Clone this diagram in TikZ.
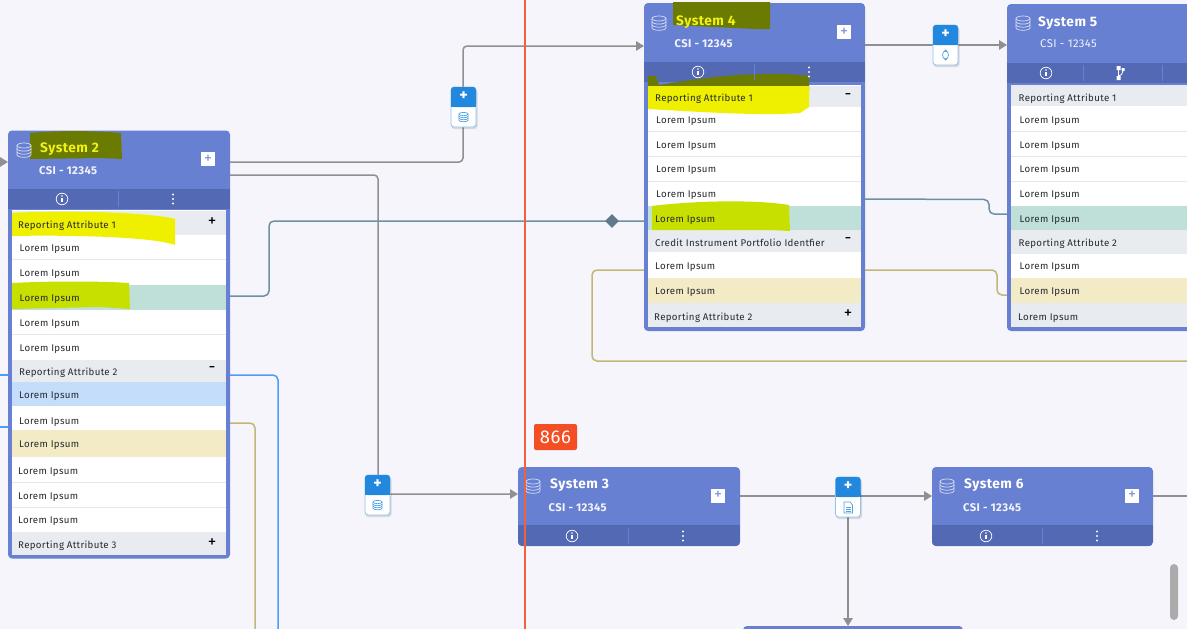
\documentclass[tikz,border=0pt]{standalone}
\usepackage{fontspec}
\setmainfont{Fira Sans}[LetterSpace=3.5]
\usetikzlibrary{arrows.meta,shapes.geometric}
\definecolor{bgc}{HTML}{F5F5FB}
\definecolor{headc}{HTML}{6880D2}
\definecolor{stripc}{HTML}{5369B3}
\definecolor{rowh}{HTML}{E8ECF1}
\definecolor{rowg}{HTML}{BFE0D8}
\definecolor{rowy}{HTML}{F3EAC6}
\definecolor{rowb}{HTML}{C3DDFB}
\definecolor{sep}{HTML}{E6E8EC}
\definecolor{connc}{HTML}{909090}
\definecolor{slatec}{HTML}{6F90A3}
\definecolor{tanc}{HTML}{C4B676}
\definecolor{bluec}{HTML}{4B9DF5}
\definecolor{redc}{HTML}{F4603C}
\definecolor{badgec}{HTML}{F44E24}
\definecolor{btnc}{HTML}{2288DD}
\definecolor{btnl}{HTML}{8FC3EE}
\definecolor{olivec}{HTML}{6B7A00}
\definecolor{yelc}{HTML}{EEF000}
\definecolor{limec}{HTML}{C8E000}
\definecolor{txtc}{HTML}{25282C}
\tikzset{
  x=1pt,y=-1pt,
  panel/.style={fill=headc,draw=none,rounded corners=4pt,inner sep=0pt},
  title/.style={anchor=mid west,inner sep=0pt,yshift=-2pt,text=white,font=\fontsize{13.7}{15}\selectfont\bfseries},
  hititle/.style={title,text=yelc!90!white},
  csi/.style={anchor=mid west,inner sep=0pt,yshift=-1pt,text=white!92!headc,font=\fontsize{11.2}{13}\selectfont\bfseries},
  lbl/.style={anchor=mid west,inner sep=0pt,yshift=-1pt,text=txtc,font=\fontsize{9.7}{11}\selectfont},
  sign/.style={anchor=center,inner sep=0pt,text=black,font=\fontsize{17}{17}\selectfont},
  conn/.style={draw=connc,line width=1.5pt,rounded corners=4pt},
  arr/.style={conn,-{Triangle[length=8pt,width=9.5pt,fill=connc]}},
  slate/.style={draw=slatec,line width=1.5pt,rounded corners=5pt},
  tanl/.style={draw=tanc,line width=1.5pt,rounded corners=5pt},
  bluel/.style={draw=bluec,line width=1.5pt,rounded corners=5pt},
  btn/.style={draw=btnl,fill=white,line width=.8pt,rounded corners=3pt,minimum width=25pt,minimum height=40pt,inner sep=0pt},
  plusbox/.style={fill=white,minimum size=14pt,inner sep=0pt,text=headc!85!white,font=\fontsize{16}{16}\selectfont},
  div/.style={draw=headc,line width=.8pt},
}
% db icon
\newcommand{\dbicon}[3]{%
  \begin{scope}[shift={(#1,#2)},draw=#3,line width=.7pt]
    \draw (-7,-4.5) arc[start angle=180,end angle=540,x radius=7,y radius=2.5];
    \draw (-7,-4.5) -- (-7,4.8) arc[start angle=180,end angle=0,x radius=7,y radius=2.5] -- (7,-4.5);
    \draw (-7,-1.4) arc[start angle=180,end angle=0,x radius=7,y radius=2.5];
    \draw (-7,1.7) arc[start angle=180,end angle=0,x radius=7,y radius=2.5];
  \end{scope}}
\newcommand{\infoicon}[2]{%
  \draw[white,line width=.7pt] (#1,#2) circle[radius=5.8];
  \fill[white] (#1-.6,#2-1) rectangle (#1+.6,#2+3.3);
  \fill[white] (#1,#2-3) circle[radius=.8];}
\newcommand{\vdotsicon}[2]{%
  \fill[white] (#1,#2-4.5) circle[radius=1.2] (#1,#2) circle[radius=1.2] (#1,#2+4.5) circle[radius=1.2];}
% row background
\newcommand{\rowbg}[5]{\fill[#5] (#1,#3) rectangle (#2,#4);}
\begin{document}
\begin{tikzpicture}
\useasboundingbox (0,0) rectangle (1187,629);
\clip (0,0) rectangle (1187,629);
\fill[bgc] (0,0) rectangle (1187,629);

% ---- port coordinates
\coordinate (s2a) at (230,162);
\coordinate (s2b) at (230,175);
\coordinate (s2g) at (228,296);
\coordinate (s2bl) at (228,375);
\coordinate (s2t) at (228,423);
\coordinate (s2in) at (8,162);
\coordinate (leftin) at (0,162);
\coordinate (s4in) at (644,46);
\coordinate (s4g) at (644,221);
\coordinate (s4o) at (865,45);
\coordinate (s5in) at (1007,45);
\coordinate (s4gr) at (863,199);
\coordinate (s5g) at (1010,214);
\coordinate (s4tr) at (863,270);
\coordinate (s5t) at (1007,295);
\coordinate (s4tl) at (644,270);
\coordinate (s3in) at (518,494);
\coordinate (s3o) at (740,496);
\coordinate (s6in) at (932,496);
\coordinate (s6o) at (1153,496);
\coordinate (edgeR) at (1187,496);
\coordinate (loopR) at (1187,361);
\coordinate (blueD) at (278,629);
\coordinate (tanD) at (255,629);
\coordinate (s7in) at (848,626);
\coordinate (stubA) at (0,375);
\coordinate (stubAe) at (8,375);
\coordinate (stubB) at (0,427);
\coordinate (stubBe) at (8,427);

% ---- connectors
\draw[arr] (leftin) -- (s2in);
\draw[arr] (s2a) -- (463,162) -- (463,46) -- (s4in);
\draw[arr] (s2b) -- (378,175) -- (378,494) -- (s3in);
\draw[slate] (s2g) -- (269,296) -- (269,221) -- (s4g);
\draw[bluel] (s2bl) -- (278,375) -- (blueD);
\draw[tanl] (s2t) -- (255,423) -- (tanD);
\draw[bluel] (stubA) -- (stubAe);
\draw[bluel] (stubB) -- (stubBe);
\draw[arr] (s4o) -- (s5in);
\draw[slate] (s4gr) -- (989,199.5) -- (989,214) -- (s5g);
\draw[tanl] (s4tr) -- (997,270) -- (997,295) -- (s5t);
\draw[tanl] (s4tl) -- (592,270) -- (592,361) -- (loopR);
\draw[arr] (s3o) -- (s6in);
\draw[conn] (s6o) -- (edgeR);
\draw[arr] (848,517) -- (s7in);

\node[diamond,fill=slatec!85!black,minimum width=14pt,minimum height=14pt,inner sep=0pt] (dia) at (612,221) {};

% ---- System 2
\node[panel,minimum width=222pt,minimum height=428pt] (s2) at (119,344.5) {};
\fill[stripc] (8,189) rectangle (230,209);
\fill[white] (12,210) rectangle (226,555);
\rowbg{12}{226}{211}{235}{rowh}
\rowbg{12}{226}{285}{310}{rowg}
\rowbg{12}{226}{360}{382}{rowh}
\rowbg{12}{226}{382}{406}{rowb}
\rowbg{12}{226}{430}{457}{rowy}
\rowbg{12}{226}{532}{555}{rowh}
\foreach \yy in {259.5,334.5,482.5,507.5}{\draw[sep,line width=.8pt] (12,\yy) -- (226,\yy);}
% highlights
\fill[olivec] (30,133) .. controls (60,130) and (100,131) .. (121,133) -- (122,159) -- (100,158) -- (30,159) -- cycle;
\fill[yelc] (12,213) .. controls (60,210) and (150,212) .. (175,219) -- (175,245) .. controls (150,236) and (60,235) .. (12,236) -- cycle;
\fill[limec] (12,283) .. controls (50,281) and (100,281) .. (129,283) -- (130,309) -- (100,307) -- (12,309) -- cycle;
\node[hititle] (s2title) at (40,147.5) {System 2};
\node[csi] (s2csi) at (39,171) {CSI - 12345};
\dbicon{24}{150}{white!75!headc}
\node[plusbox] (s2plus) at (208,159) {+};
\infoicon{62}{199}
\draw[div] (118,191) -- (118,207);
\vdotsicon{173}{199}
\node[lbl] (s2h1) at (18,224.5) {Reporting Attribute 1};
\node[sign] (s2h1s) at (212,222) {+};
\node[lbl] (s2r1) at (19.5,248) {Lorem Ipsum};
\node[lbl] (s2r2) at (19.5,273) {Lorem Ipsum};
\node[lbl] (s2r3) at (19.5,298) {Lorem Ipsum};
\node[lbl] (s2r4) at (19.5,323) {Lorem Ipsum};
\node[lbl] (s2r5) at (19.5,347.5) {Lorem Ipsum};
\node[lbl] (s2h2) at (19,371.5) {Reporting Attribute 2};
\node[sign] (s2h2s) at (212,370) {-};
\node[lbl] (s2r6) at (19,394.5) {Lorem Ipsum};
\node[lbl] (s2r7) at (19,420.5) {Lorem Ipsum};
\node[lbl] (s2r8) at (19,443.5) {Lorem Ipsum};
\node[lbl] (s2r9) at (18,471) {Lorem Ipsum};
\node[lbl] (s2r10) at (18,495.5) {Lorem Ipsum};
\node[lbl] (s2r11) at (18,520) {Lorem Ipsum};
\node[lbl] (s2h3) at (18,545) {Reporting Attribute 3};
\node[sign] (s2h3s) at (212,543) {+};

% ---- System 4
\node[panel,minimum width=221pt,minimum height=328pt] (s4) at (754.5,167) {};
\fill[stripc] (644,62) rectangle (865,82);
\fill[white] (648,85) rectangle (861,327);
\rowbg{648}{861}{86}{107}{rowh}
\rowbg{648}{861}{206}{230}{rowg}
\rowbg{648}{861}{230}{252}{rowh}
\rowbg{648}{861}{278}{303}{rowy}
\rowbg{648}{861}{303}{327}{rowh}
\foreach \yy in {131,156,181}{\draw[sep,line width=.8pt] (648,\yy) -- (861,\yy);}
\fill[olivec] (673,2) -- (770,2) -- (770,29) -- (755,29) -- (673,25) -- cycle;
\fill[olivec] (648,76) -- (656,76) -- (659,85) .. controls (700,78) and (760,70) .. (809,76) -- (809,90) -- (648,90) -- cycle;
\fill[yelc] (648,86) -- (809,86) -- (809,107) -- (800,113) .. controls (760,116) and (700,112) .. (648,109) -- cycle;
\fill[limec] (652,206) .. controls (700,200) and (760,200) .. (789,205) -- (790,231) -- (770,230) -- (652,230) -- cycle;
\node[hititle] (s4title) at (676,20.5) {System 4};
\node[csi] (s4csi) at (674.5,44) {CSI - 12345};
\dbicon{659}{23}{white!75!headc}
\node[plusbox] (s4plus) at (844,32) {+};
\infoicon{698}{72}
\draw[div] (754,64) -- (754,80);
\vdotsicon{809}{72}
\node[lbl] (s4h1) at (655,97.5) {Reporting Attribute 1};
\node[sign] (s4h1s) at (848,97) {-};
\node[lbl] (s4r1) at (656,119.5) {Lorem Ipsum};
\node[lbl] (s4r2) at (656,144.5) {Lorem Ipsum};
\node[lbl] (s4r3) at (656,169) {Lorem Ipsum};
\node[lbl] (s4r4) at (656,194) {Lorem Ipsum};
\node[lbl] (s4r5) at (655,218.5) {Lorem Ipsum};
\node[lbl] (s4h2) at (655,242.5) {Credit Instrument Portfolio Identfier};
\node[sign] (s4h2s) at (848,241) {-};
\node[lbl] (s4r6) at (655,266) {Lorem Ipsum};
\node[lbl] (s4r7) at (655,291) {Lorem Ipsum};
\node[lbl] (s4h3) at (654,316.5) {Reporting Attribute 2};
\node[sign] (s4h3s) at (848,314) {+};

% ---- System 5
\node[panel,minimum width=230pt,minimum height=327pt] (s5) at (1122,167.5) {};
\fill[stripc] (1007,63) rectangle (1200,83);
\fill[white] (1011,85) rectangle (1200,327);
\rowbg{1011}{1200}{85}{106}{rowh}
\rowbg{1011}{1200}{206}{230}{rowg}
\rowbg{1011}{1200}{230}{254}{rowh}
\rowbg{1011}{1200}{278}{303}{rowy}
\rowbg{1011}{1200}{303}{327}{rowh}
\foreach \yy in {131,156,181}{\draw[sep,line width=.8pt] (1011,\yy) -- (1200,\yy);}
\node[title] (s5title) at (1038,21.5) {System 5};
\node[csi,font=\fontsize{11.2}{13}\selectfont] (s5csi) at (1040,44) {CSI - 12345};
\dbicon{1023}{23}{white!75!headc}
\infoicon{1046}{73}
\draw[div] (1083,65) -- (1083,81);
\draw[white,line width=.8pt] (1118.5,68) -- (1118.5,78) (1118.5,76) .. controls (1122,75) and (1123,73) .. (1123,70);
\fill[white] (1116.5,66) rectangle (1120.5,70) (1116.5,76) rectangle (1120.5,80) (1121.5,68) rectangle (1124.5,71);
\draw[div] (1162,65) -- (1162,81);
\node[lbl] (s5h1) at (1018.5,97.5) {Reporting Attribute 1};
\node[lbl] (s5r1) at (1019.5,119.5) {Lorem Ipsum};
\node[lbl] (s5r2) at (1019.5,144.5) {Lorem Ipsum};
\node[lbl] (s5r3) at (1019.5,169) {Lorem Ipsum};
\node[lbl] (s5r4) at (1019.5,194) {Lorem Ipsum};
\node[lbl] (s5r5) at (1019.5,218.5) {Lorem Ipsum};
\node[lbl] (s5h2) at (1018.5,242.5) {Reporting Attribute 2};
\node[lbl] (s5r6) at (1019.5,266) {Lorem Ipsum};
\node[lbl] (s5r7) at (1019.5,291) {Lorem Ipsum};
\node[lbl] (s5r8) at (1018,316.5) {Lorem Ipsum};

% ---- System 3
\node[panel,minimum width=222pt,minimum height=79pt] (s3) at (629,506.5) {};
\begin{scope}
\clip[rounded corners=4pt] (518,467) rectangle (740,546);
\fill[stripc] (518,525) rectangle (740,546);
\end{scope}
\node[title] (s3title) at (550,484) {System 3};
\node[csi] (s3csi) at (548.5,507.5) {CSI - 12345};
\dbicon{533}{486}{white!75!headc}
\node[plusbox] (s3plus) at (718,495.5) {+};
\infoicon{572}{536}
\draw[div] (628,528) -- (628,544);
\vdotsicon{683}{536}

% ---- System 6
\node[panel,minimum width=221pt,minimum height=79pt] (s6) at (1042.5,506.5) {};
\begin{scope}
\clip[rounded corners=4pt] (932,467) rectangle (1153,546);
\fill[stripc] (932,525) rectangle (1153,546);
\end{scope}
\node[title] (s6title) at (964,484) {System 6};
\node[csi] (s6csi) at (963,507.5) {CSI - 12345};
\dbicon{947}{486}{white!75!headc}
\node[plusbox] (s6plus) at (1132,495.5) {+};
\infoicon{986}{536}
\draw[div] (1042,528) -- (1042,544);
\vdotsicon{1097}{536}

% ---- System below (cut off)
\node[panel,minimum width=220pt,minimum height=20pt] (s7) at (853,636) {};

% ---- buttons
\newcommand{\btnat}[3]{%
  \fill[black,opacity=.12,rounded corners=3pt] (#2-12,#3-18) rectangle (#2+14,#3+22);
  \node[btn] (#1) at (#2,#3) {};
  \fill[btnc,rounded corners=3pt] (#2-12.5,#3-20) rectangle (#2+12.5,#3);
  \fill[btnc] (#2-12.5,#3-4) rectangle (#2+12.5,#3);
  \node[inner sep=0pt,text=white,font=\fontsize{16}{16}\selectfont\bfseries] (#1p) at (#2,#3-10.5) {+};}
\btnat{b1}{463.5}{107}
\btnat{b2}{377.5}{495}
\btnat{b3}{945.5}{45}
\btnat{b4}{848}{497}
\begin{scope}[shift={(463.5,117)},scale=.66]\dbicon{0}{0}{btnc!80!white}\end{scope}
\begin{scope}[shift={(377.5,505)},scale=.66]\dbicon{0}{0}{btnc!80!white}\end{scope}
% sync icon
\draw[btnc!80!white,line width=.7pt] (945.5,55) ellipse[x radius=3,y radius=4];
\fill[btnc!80!white] (945.5,49.5) -- (947.5,51.5) -- (943.5,51.5) -- cycle (945.5,60.5) -- (947.5,58.5) -- (943.5,58.5) -- cycle;
% doc icon
\draw[btnc!80!white,line width=.7pt] (844,502) -- (850,502) -- (852.5,505) -- (852.5,513) -- (844,513) -- cycle;
\draw[btnc!80!white,line width=.7pt] (845.5,507) -- (851,507) (845.5,509) -- (851,509) (845.5,511) -- (851,511);

% ---- red line & badge
\coordinate (redT) at (525,0);
\coordinate (redB) at (525,629);
\draw[redc,line width=1.3pt] (redT) -- (redB);
\node[fill=badgec,rounded corners=2pt,minimum width=43pt,minimum height=26pt,inner sep=0pt,text=white,font=\fontsize{18.5}{18.5}\selectfont,anchor=center] (badge) at (555.5,437) {866};

% ---- scrollbar
\fill[black!33,rounded corners=4pt] (1170,564) rectangle (1178,620);
\end{tikzpicture}
\end{document}
